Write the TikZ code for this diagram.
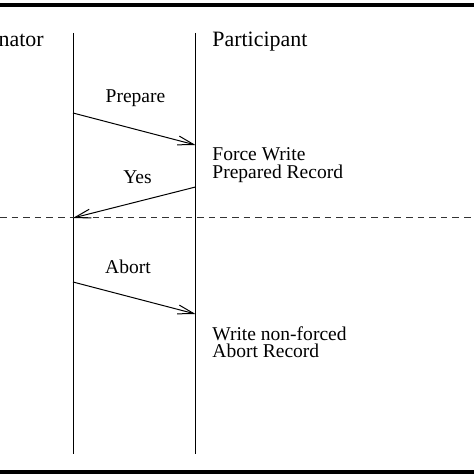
\documentclass[tikz,border=0pt]{standalone}
\usepackage{fontspec}
\setmainfont{Liberation Serif}
\usetikzlibrary{arrows.meta,positioning}

\begin{document}
\begin{tikzpicture}[
  x=0.5bp, y=-0.5bp,
  lbl/.style={inner sep=0pt, font=\fontsize{9.8}{9}\selectfont},
  head/.style={inner sep=0pt, font=\fontsize{11}{12}\selectfont},
  life/.style={line width=0.5bp},
  arr/.style={-{Straight Barb[length=8bp,width=4.5bp]}, line width=0.5bp},
  sep/.style={dash pattern=on 3.3bp off 2.5bp, line width=0.5bp, black!80},
  rule/.style={line width=2bp}
]
\useasboundingbox (0,0) rectangle (474,474);
\clip (0,0) rectangle (474,474);
\draw[rule] (0,5.3) -- (474,5.3);
\draw[rule] (0,471.8) -- (474,471.8);

\node[head, anchor=base east] (coord) at (44,47) {Coordinator};
\node[head, anchor=base west] (part) at (212,47) {Participant};

\coordinate (ctop) at (73,33);
\coordinate (cbot) at (73,454);
\coordinate (ptop) at (195.5,33);
\coordinate (pbot) at (195.5,454);
\draw[life] (ctop) -- (cbot);
\draw[life] (ptop) -- (pbot);

\coordinate (c1) at (73,113);
\coordinate (p1) at (195.5,145);
\coordinate (p2) at (195.5,187);
\coordinate (c2) at (73,218);
\coordinate (c3) at (73,282);
\coordinate (p3) at (195.5,314);
\coordinate (dl) at (0,218);
\coordinate (dr) at (474,218);

\draw[sep] (dl) -- (dr);
\draw[arr] (c1) -- (p1);
\draw[arr] (p2) -- (c2);
\draw[arr] (c3) -- (p3);

\node[lbl, anchor=base] (prep) at (135.5,103) {Prepare};
\node[lbl, anchor=base] (yes) at (137.5,184) {Yes};
\node[lbl, anchor=base] (abort) at (128,274) {Abort};
\node[lbl, anchor=base west] (fw) at (212,161) {Force Write};
\node[lbl, anchor=base west] (pr) at (212,179) {Prepared Record};
\node[lbl, anchor=base west] (wn) at (212,340) {Write non-forced};
\node[lbl, anchor=base west] (ar) at (212,357.5) {Abort Record};
\end{tikzpicture}
\end{document}
